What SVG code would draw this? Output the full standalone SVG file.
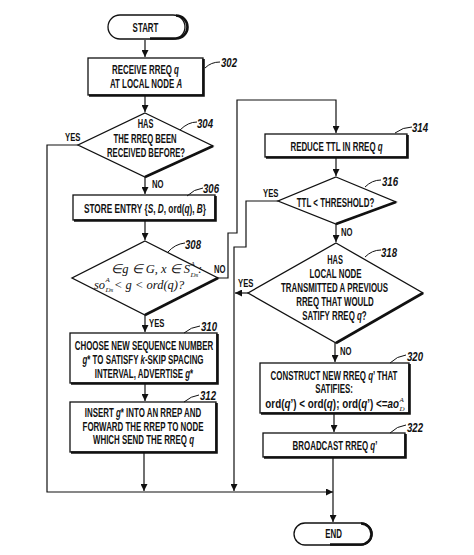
<svg xmlns="http://www.w3.org/2000/svg" width="474" height="555" viewBox="0 0 474 555">
<style>
.t{font-family:"Liberation Sans",Arial,sans-serif;font-weight:bold;font-size:12px;fill:#111;text-anchor:middle}
.l{font-family:"Liberation Sans",Arial,sans-serif;font-weight:bold;font-size:11px;fill:#111}
.n{font-family:"Liberation Sans",Arial,sans-serif;font-weight:bold;font-style:italic;font-size:12px;fill:#111}
.m{font-family:"Liberation Serif","Times New Roman",serif;font-style:italic;font-size:12.5px;fill:#111}
.ms{font-family:"Liberation Serif","Times New Roman",serif;font-style:italic;font-size:7px;fill:#111}
.i{font-style:italic}
.s{fill:#fff;stroke:#111;stroke-width:1.3}
.sh{fill:none;stroke:#111;stroke-width:2.6;stroke-linejoin:miter}
.c{fill:none;stroke:#111;stroke-width:1.2}
.ld{fill:none;stroke:#111;stroke-width:1}
</style>
<defs>
<marker id="a" viewBox="0 0 10 10" refX="10" refY="5" markerWidth="7" markerHeight="7" orient="auto" markerUnits="userSpaceOnUse">
<path d="M0,0 L10,5 L0,10 Z" fill="#111"/>
</marker>
</defs>
<rect width="474" height="555" fill="#fff"/>

<g id="connectors">
<path class="c" d="M145,40 V57" marker-end="url(#a)"/>
<path class="c" d="M145,96 V112" marker-end="url(#a)"/>
<path class="c" d="M145,177 V194" marker-end="url(#a)"/>
<path class="c" d="M145,221 V240" marker-end="url(#a)"/>
<path class="c" d="M145,315 V332" marker-end="url(#a)"/>
<path class="c" d="M145,384 V401" marker-end="url(#a)"/>
<path class="c" d="M144,453 V491" marker-end="url(#a)"/>
<path class="c" d="M78,145 H47 V492 H333" marker-end="url(#a)"/>
<path class="c" d="M218,278 H228 V233 H237 V100 H336 V133" marker-end="url(#a)"/>
<path class="c" d="M336,158 V176" marker-end="url(#a)"/>
<path class="c" d="M336,224 V242" marker-end="url(#a)"/>
<path class="c" d="M278,201 H246 V247 H234 V491" marker-end="url(#a)"/>
<path class="c" d="M248,293 H235" marker-end="url(#a)"/>
<path class="c" d="M335,343 V362" marker-end="url(#a)"/>
<path class="c" d="M334,414 V432" marker-end="url(#a)"/>
<path class="c" d="M333,458 V522" marker-end="url(#a)"/>
<text class="l" transform="translate(65,141) scale(.7,1)">YES</text>
<text class="l" transform="translate(152,188) scale(.7,1)">NO</text>
<text class="l" transform="translate(214,273) scale(.7,1)">NO</text>
<text class="l" transform="translate(149,327) scale(.7,1)">YES</text>
<text class="l" transform="translate(263,197) scale(.7,1)">YES</text>
<text class="l" transform="translate(341,236) scale(.7,1)">NO</text>
<text class="l" transform="translate(238,287) scale(.7,1)">YES</text>
<text class="l" transform="translate(340,355) scale(.7,1)">NO</text>
</g>

<g id="start">
<rect class="s" x="108" y="15" width="77" height="24" rx="12"/>
<path class="sh" d="M176,15.5 A11.5,11.5 0 0 1 176,38.5 H150"/>
<text class="t" transform="translate(145.5,31.5) scale(.66,1)">START</text>
</g>

<g id="n302">
<rect class="s" x="88" y="58" width="115" height="37"/>
<path class="sh" d="M203.5,59 V95.5 H89"/>
<text class="t" transform="translate(145.5,74) scale(.66,1)">RECEIVE RREQ <tspan class="i">q</tspan></text>
<text class="t" transform="translate(146,88) scale(.66,1)">AT LOCAL NODE <tspan class="i">A</tspan></text>
<path class="ld" d="M205,68 Q211,62 220,62"/>
<text class="n" transform="translate(221,67) scale(.8,1)">302</text>
</g>

<g id="n304">
<path class="s" d="M145,113 L213,146 L145,177 L78,145 Z"/>
<path class="sh" d="M213,146 L145,177"/>
<text class="t" transform="translate(145.5,127.5) scale(.62,1)">HAS</text>
<text class="t" transform="translate(145,142.5) scale(.64,1)">THE RREQ BEEN</text>
<text class="t" transform="translate(146,157) scale(.64,1)">RECEIVED BEFORE?</text>
<path class="ld" d="M180,130 Q188,122 197,122"/>
<text class="n" transform="translate(197,128) scale(.8,1)">304</text>
</g>

<g id="n306">
<rect class="s" x="73" y="195" width="142" height="25"/>
<path class="sh" d="M215.5,196 V220.5 H74"/>
<text class="t" transform="translate(145,212.5) scale(.69,1)">STORE ENTRY {<tspan class="i">S</tspan>, <tspan class="i">D</tspan>, ord(<tspan class="i">q</tspan>), <tspan class="i">B</tspan>}</text>
<path class="ld" d="M187,196 Q194,189 203,188"/>
<text class="n" transform="translate(203,193) scale(.8,1)">306</text>
</g>

<g id="n308">
<path class="s" d="M145,241 L218,278 L145,315 L72,278 Z"/>
<path class="sh" d="M218,278 L145,315"/>
<text class="m" x="190" y="273" text-anchor="end" font-size="13.5">∈g ∈ G, x ∈ S</text>
<text class="ms" x="190.5" y="265.5">A</text>
<text class="ms" x="190.5" y="276.5">Ds</text>
<text class="m" x="198" y="273">:</text>
<text class="m" x="105" y="289" text-anchor="end">so</text>
<text class="ms" x="105.5" y="281.5">A</text>
<text class="ms" x="105.5" y="292">Ds</text>
<text class="m" x="114" y="289">&lt; g &lt; ord(q)?</text>
<path class="ld" d="M168,252 Q175,244 185,243"/>
<text class="n" transform="translate(185,249) scale(.8,1)">308</text>
</g>

<g id="n310">
<rect class="s" x="70" y="333" width="147" height="50"/>
<path class="sh" d="M217.5,334 V383.5 H71"/>
<text class="t" transform="translate(144,349.5) scale(.66,1)">CHOOSE NEW SEQUENCE NUMBER</text>
<text class="t" transform="translate(143,363.5) scale(.66,1)"><tspan class="i">g</tspan>* TO SATISFY <tspan class="i">k</tspan>-SKIP SPACING</text>
<text class="t" transform="translate(144,377.5) scale(.66,1)">INTERVAL, ADVERTISE <tspan class="i">g</tspan>*</text>
<path class="ld" d="M184,333 Q191,327 200,326"/>
<text class="n" transform="translate(201,331) scale(.8,1)">310</text>
</g>

<g id="n312">
<rect class="s" x="70" y="402" width="146" height="50"/>
<path class="sh" d="M216.5,403 V452.5 H71"/>
<text class="t" transform="translate(143,416.5) scale(.66,1)">INSERT <tspan class="i">g</tspan>* INTO AN RREP AND</text>
<text class="t" transform="translate(143,430.5) scale(.66,1)">FORWARD THE RREP TO NODE</text>
<text class="t" transform="translate(143.5,444) scale(.66,1)">WHICH SEND THE RREQ <tspan class="i">q</tspan></text>
<path class="ld" d="M184,402 Q191,396 199,395"/>
<text class="n" transform="translate(200,400) scale(.8,1)">312</text>
</g>

<g id="n314">
<rect class="s" x="265" y="134" width="142" height="23"/>
<path class="sh" d="M407.5,135 V157.5 H266"/>
<text class="t" transform="translate(336.5,150.5) scale(.66,1)">REDUCE TTL IN RREQ <tspan class="i">q</tspan></text>
<path class="ld" d="M395,133 Q403,127 412,127"/>
<text class="n" transform="translate(412,132) scale(.8,1)">314</text>
</g>

<g id="n316">
<path class="s" d="M336,177 L396,202 L336,224 L278,201 Z"/>
<path class="sh" d="M396,202 L336,224"/>
<text class="t" transform="translate(335.5,206.5) scale(.66,1)">TTL &lt; THRESHOLD?</text>
<path class="ld" d="M365,187 Q372,180 381,180"/>
<text class="n" transform="translate(382,186) scale(.8,1)">316</text>
</g>

<g id="n318">
<path class="s" d="M336,243 L423,293 L336,343 L248,293 Z"/>
<path class="sh" d="M423,293 L336,343"/>
<text class="t" transform="translate(335,264) scale(.62,1)">HAS</text>
<text class="t" transform="translate(335.5,278) scale(.66,1)">LOCAL NODE</text>
<text class="t" transform="translate(334.5,292) scale(.66,1)">TRANSMITTED A PREVIOUS</text>
<text class="t" transform="translate(335,306) scale(.66,1)">RREQ THAT WOULD</text>
<text class="t" transform="translate(334.5,320) scale(.66,1)">SATIFY RREQ <tspan class="i">q</tspan>?</text>
<path class="ld" d="M365,257 Q372,250 381,250"/>
<text class="n" transform="translate(381,257) scale(.8,1)">318</text>
</g>

<g id="n320">
<rect class="s" x="260" y="363" width="149" height="50"/>
<path class="sh" d="M409.5,364 V413.5 H261"/>
<text class="t" transform="translate(334,379.5) scale(.66,1)">CONSTRUCT NEW RREQ <tspan class="i">q</tspan>’ THAT</text>
<text class="t" transform="translate(334,393) scale(.66,1)">SATIFIES:</text>
<text class="t" text-anchor="end" style="text-anchor:end" transform="translate(399,407.5) scale(.82,1)">ord(<tspan class="i">q</tspan>’) &lt; ord(<tspan class="i">q</tspan>); ord(<tspan class="i">q</tspan>’) &lt;=<tspan class="i">ao</tspan></text>
<text class="ms" x="399.5" y="402" font-family="Liberation Sans, Arial, sans-serif">A</text>
<text class="ms" x="399.5" y="410.5" font-family="Liberation Sans, Arial, sans-serif">D</text>
<path class="ld" d="M390,363 Q397,356 406,355"/>
<text class="n" transform="translate(407,361) scale(.8,1)">320</text>
</g>

<g id="n322">
<rect class="s" x="263" y="433" width="142" height="24"/>
<path class="sh" d="M405.5,434 V457.5 H264"/>
<text class="t" transform="translate(335,449.5) scale(.66,1)">BROADCAST RREQ <tspan class="i">q</tspan>’</text>
<path class="ld" d="M390,433 Q397,426 406,425"/>
<text class="n" transform="translate(407,432) scale(.8,1)">322</text>
</g>

<g id="end">
<rect class="s" x="294" y="523" width="78" height="22" rx="11"/>
<path class="sh" d="M361,523.5 A10.5,10.5 0 0 1 361,544.5 H330"/>
<text class="t" transform="translate(333.5,538) scale(.66,1)">END</text>
</g>
</svg>
